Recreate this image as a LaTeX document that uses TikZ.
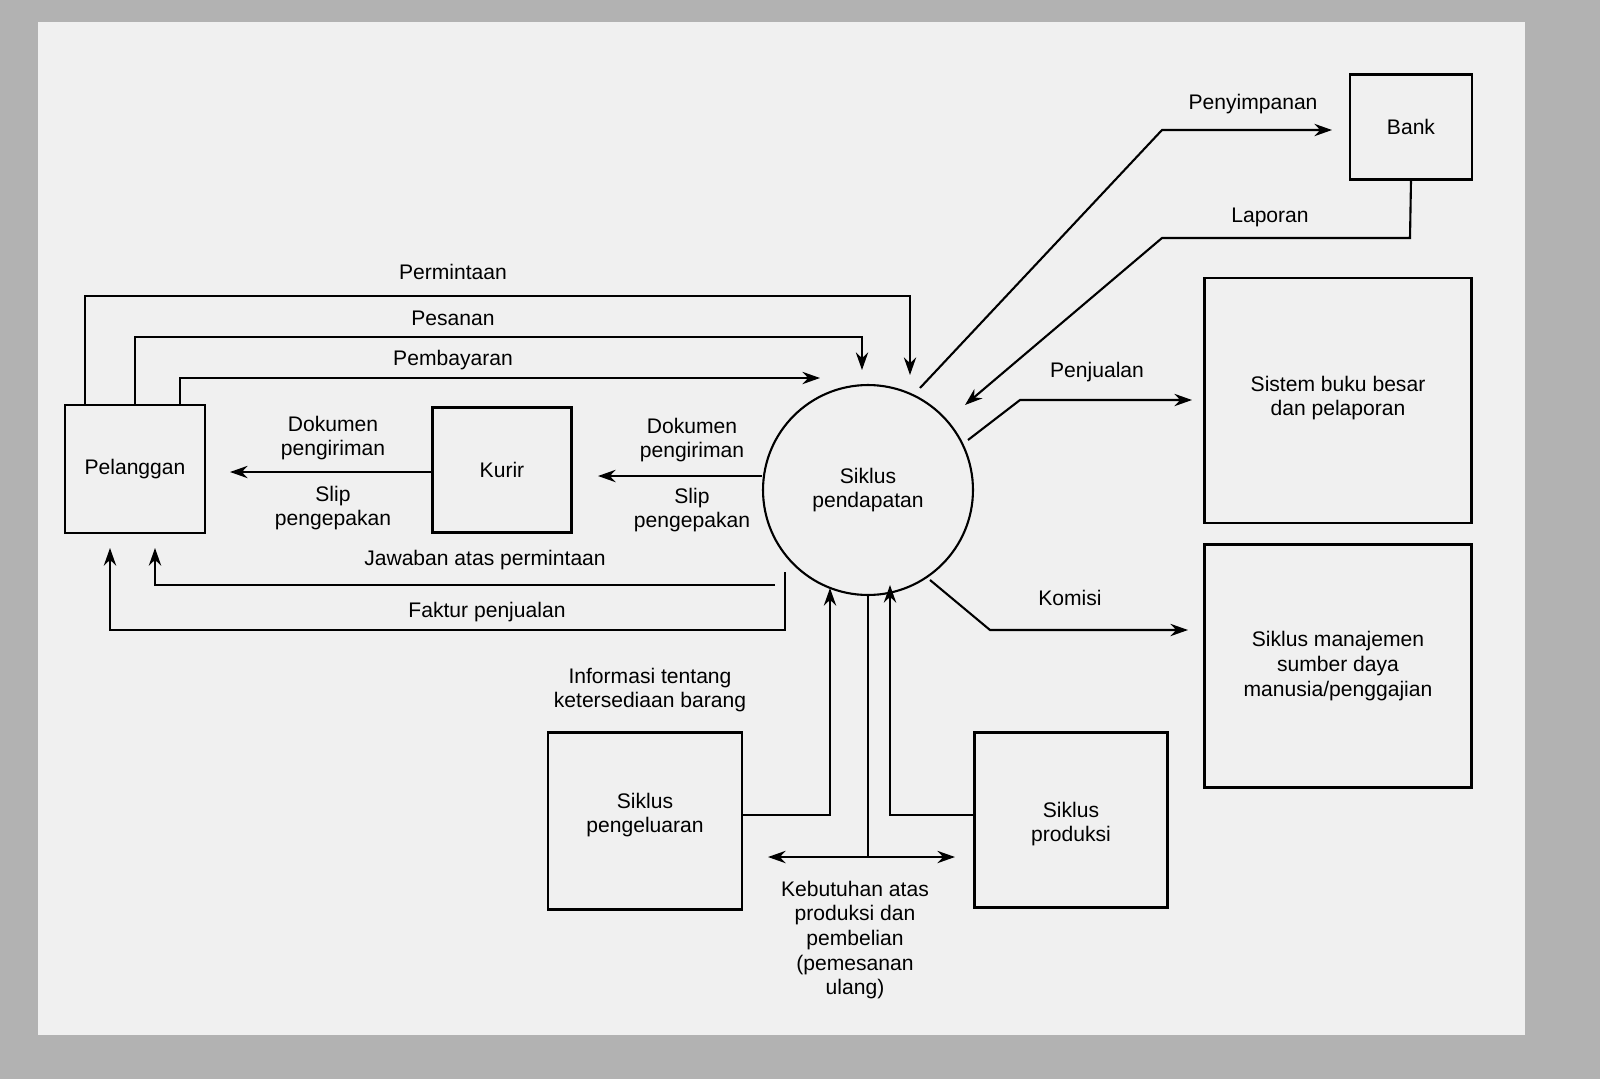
\documentclass[tikz,border=0pt]{standalone}
\usepackage{fontspec}
\setmainfont{Liberation Sans}
\usetikzlibrary{arrows.meta}
\begin{document}
\begin{tikzpicture}[x=0.02cm,y=-0.02cm,
  box/.style={draw,line width=1.2pt,inner sep=0pt},
  lbl/.style={font=\fontsize{12}{14}\selectfont,align=center,inner sep=1pt},
  ln/.style={line width=1.2pt},
  ar/.style={ln,-{Stealth[length=10pt,width=7pt]}}]
\fill[gray!60] (0,0) rectangle (1600,1079);
\fill[black!6] (38,22) rectangle (1525,1035);
\useasboundingbox (0,0) rectangle (1600,1079);
% nodes
\node[box,minimum width=2.8cm,minimum height=2.56cm,lbl] (pel) at (135,469) {Pelanggan};
\node[box,minimum width=2.78cm,minimum height=2.5cm,lbl] (kur) at (502,470) {Kurir};
\node[draw,circle,line width=1.2pt,minimum size=4.2cm,lbl] (sik) at (868,490) {Siklus\\pendapatan};
\node[box,minimum width=2.44cm,minimum height=2.1cm,lbl] (bank) at (1411,127) {Bank};
\node[box,minimum width=5.34cm,minimum height=4.9cm,lbl,anchor=north] (sbb) at (1338,277) {};
\node[lbl] at (1338,398) {Sistem buku besar\\dan pelaporan};
\node[box,minimum width=5.34cm,minimum height=4.86cm,lbl] (sdm) at (1338,666) {Siklus manajemen\\sumber daya\\manusia/penggajian};
\node[box,minimum width=3.88cm,minimum height=3.54cm,lbl] (peng) at (645,821) {};
\node[lbl] at (645,815) {Siklus\\pengeluaran};
\node[box,minimum width=3.86cm,minimum height=3.5cm,lbl] (prod) at (1071,820) {};
\node[lbl] at (1071,824) {Siklus\\produksi};
% coordinates
\coordinate (k1) at (868,857);
% connectors
\draw[ar] (pel.north west -| 85,0) |- (910,296) -- (910,375);
\draw[ar] (pel.north west -| 135,0) |- (862,337) -- (862,370);
\draw[ar] (pel.north west -| 180,0) |- (820,378);
\node[lbl] at (453,272) {Permintaan};
\node[lbl] at (453,318) {Pesanan};
\node[lbl] at (453,360) {Pembayaran};
\draw[ar] (kur.west |- 0,472) -- (230,472);
\node[lbl] at (333,438) {Dokumen\\pengiriman};
\node[lbl] at (333,508) {Slip\\pengepakan};
\draw[ar] (sik.west |- 0,476) -- (598,476);
\node[lbl] at (692,440) {Dokumen\\pengiriman};
\node[lbl] at (692,510) {Slip\\pengepakan};
\draw[ar] (775,585) -- (155,585) -- (155,548);
\node[lbl] at (485,560) {Jawaban atas permintaan};
\draw[ar] (785,572) -- (785,630) -- (110,630) -- (110,548);
\node[lbl] at (487,612) {Faktur penjualan};
\draw[ar] (920,388) -- (1162,130) -- (1332,130);
\node[lbl] at (1253,104) {Penyimpanan};
\draw[ar] (bank.south) -- (1410,238) -- (1162,238) -- (965,405);
\node[lbl] at (1270,217) {Laporan};
\draw[ar] (968,440) -- (1020,400) -- (1192,400);
\node[lbl] at (1097,372) {Penjualan};
\draw[ar] (930,580) -- (990,630) -- (1188,630);
\node[lbl] at (1070,598) {Komisi};
\draw[ar] (peng.east |- 0,815) -- (830,815) -- (830,588);
\node[lbl] at (650,690) {Informasi tentang\\ketersediaan barang};
\draw[ar] (prod.west |- 0,815) -- (890,815) -- (890,585);
\draw[ln] (sik.south) -- (k1);
\draw[ln,{Stealth[length=10pt,width=7pt]}-{Stealth[length=10pt,width=7pt]}] (768,857) -- (955,857);
\node[lbl] at (855,940) {Kebutuhan atas\\produksi dan\\pembelian\\(pemesanan\\ulang)};
\end{tikzpicture}
\end{document}
